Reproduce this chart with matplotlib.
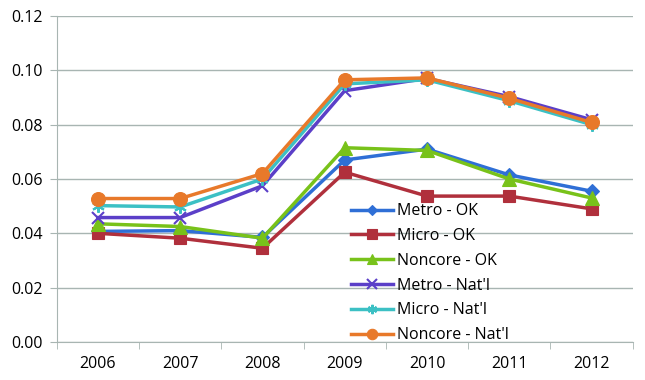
import matplotlib
matplotlib.use('Agg')
import matplotlib.pyplot as plt
import numpy as np

years = ["2006", "2007", "2008", "2009", "2010", "2011", "2012"]

metro_ok = [0.0407, 0.0410, 0.0385, 0.0670, 0.0710, 0.0615, 0.0555]
micro_ok = [0.0400, 0.0382, 0.0345, 0.0625, 0.0537, 0.0537, 0.0490]
noncore_ok = [0.0435, 0.0425, 0.0382, 0.0715, 0.0705, 0.0600, 0.0530]
metro_natl = [0.0458, 0.0458, 0.0575, 0.0925, 0.0970, 0.0903, 0.0818]
micro_natl = [0.0502, 0.0497, 0.0600, 0.0950, 0.0965, 0.0888, 0.0800]
noncore_natl = [0.0528, 0.0528, 0.0620, 0.0965, 0.0972, 0.0897, 0.0808]

series = [
    ("Metro - OK", metro_ok, '#2f6fd6', 'D', 7),
    ("Micro - OK", micro_ok, '#b0303c', 's', 9),
    ("Noncore - OK", noncore_ok, '#78c21a', '^', 10),
    ("Metro - Nat'l", metro_natl, '#5b3fc8', 'x', 9),
    ("Micro - Nat'l", micro_natl, '#3cc0c4', (6, 2, 0), 9),
    ("Noncore - Nat'l", noncore_natl, '#e8792a', 'o', 10),
]

plt.rcParams['font.family'] = ['Open Sans', 'DejaVu Sans']

fig = plt.figure(figsize=(6.45, 3.8), dpi=100)
ax = fig.add_axes([0.088, 0.1, 0.893, 0.858])

x = np.arange(len(years))
for label, vals, color, marker, ms in series:
    ax.plot(x, vals, color=color, lw=2.5, marker=marker, markersize=ms,
            markeredgewidth=1.5 if marker in ('x', (6, 2, 0)) else 0.8,
            markeredgecolor=color, label=label)

grid_c = '#a8b5b2'
ax.set_xlim(-0.5, len(years) - 0.5)
ax.set_ylim(0, 0.12)
ax.set_yticks(np.arange(0, 0.121, 0.02))
ax.set_yticklabels([f"{v:.2f}" for v in np.arange(0, 0.121, 0.02)])
ax.yaxis.grid(True, color=grid_c, lw=1)
ax.set_axisbelow(True)

ax.set_xticks(x)
ax.set_xticklabels(years)
ax.set_xticks(np.arange(-0.5, len(years), 1), minor=True)
ax.tick_params(axis='x', which='major', length=0, pad=10, labelsize=11.5)
ax.tick_params(axis='x', which='minor', length=5, color=grid_c)
ax.tick_params(axis='y', length=5, color=grid_c, labelsize=11.5, pad=5)

for s in ['top', 'right']:
    ax.spines[s].set_visible(False)
ax.spines['left'].set_color(grid_c)
ax.spines['bottom'].set_color(grid_c)

ax.legend(loc='upper left', bbox_to_anchor=(0.5, 0.445), frameon=False,
          fontsize=11.5, handlelength=2.6, labelspacing=0.55, handletextpad=0.3,
          borderaxespad=0, markerscale=0.75)

fig.savefig("out.png", dpi=100, facecolor='white')
